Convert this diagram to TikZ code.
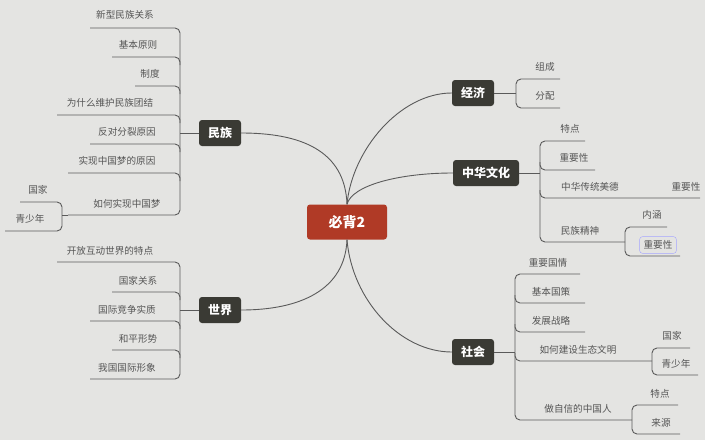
\documentclass[tikz,border=0pt]{standalone}
\usepackage{fontspec}
\setmainfont{Noto Sans CJK SC}
\definecolor{bg}{HTML}{E4E4E2}
\definecolor{topic}{HTML}{3A3A34}
\definecolor{rootred}{HTML}{B03A26}
\definecolor{leaftext}{HTML}{555555}
\definecolor{linec}{HTML}{5A5A5A}
\tikzset{
  root/.style={fill=rootred, text=white, rounded corners=3pt, minimum width=80pt, minimum height=35pt, font=\fontsize{14}{14}\selectfont\bfseries},
  topicbox/.style={fill=topic, text=white, rounded corners=3pt, inner xsep=9pt, minimum height=26pt, font=\fontsize{12}{12}\selectfont\bfseries},
  leaf/.style={text=leaftext, font=\fontsize{9.6}{9.6}\selectfont, inner sep=1pt},
  branch/.style={linec, line width=0.9pt},
  brk/.style={linec, line width=0.9pt, rounded corners=5pt}
}
\begin{document}
\begin{tikzpicture}[x=1pt,y=-1pt]
\fill[bg] (0,0) rectangle (705,440);
\useasboundingbox (0,0) rectangle (705,440);

\node[root] (r) at (347,222) {必背2};
\node[topicbox] (mz) at (220,133) {民族};
\node[topicbox] (sj) at (220,310) {世界};
\node[topicbox] (jj) at (473,93) {经济};
\node[topicbox] (zh) at (486,173) {中华文化};
\node[topicbox] (sh) at (473,352) {社会};

% main curves
\draw[branch] (r.north) .. controls (345,150) and (300,133) .. (mz.east);
\draw[branch] (r.south) .. controls (345,290) and (300,310) .. (sj.east);
\draw[branch] (r.north) .. controls (352,150) and (400,93) .. (jj.west);
\draw[branch] (r.north) .. controls (352,185) and (400,173) .. (zh.west);
\draw[branch] (r.south) .. controls (352,300) and (400,352) .. (sh.west);

% 民族
\foreach \t/\x/\y in {新型民族关系/125/15, 基本原则/138/45, 制度/150/74, 为什么维护民族团结/110/103, 反对分裂原因/127/132, 实现中国梦的原因/117/161, 如何实现中国梦/127/204}
  \node[leaf] at (\x,\y) {\t};
\draw[brk] (90,28) -- (180,28) -- (180,215) -- (68,215);
\foreach \y/\xl in {57/112, 86/135, 115/57, 144/90, 173/68}
  \draw[brk] (\xl,\y) -- (180,\y) -- (180,\y+8);
\draw[branch] (mz.west) -- (180,133);
\node[leaf] (gj1) at (38,190) {国家};
\node[leaf] (qs1) at (30,219) {青少年};
\draw[brk] (20,202) -- (62,202) -- (62,231) -- (5,231);
\draw[branch] (62,215) -- (68,215);

% 世界
\foreach \t/\x/\y in {开放互动世界的特点/110/251, 国家关系/138/281, 国际竞争实质/127/310, 和平形势/138/339, 我国国际形象/127/368}
  \node[leaf] at (\x,\y) {\t};
\draw[brk] (57,262) -- (180,262) -- (180,379) -- (90,379);
\foreach \y/\xl in {292/112, 321/90, 350/112}
  \draw[brk] (\xl,\y) -- (180,\y) -- (180,\y+8);
\draw[branch] (sj.west) -- (180,310);

% 经济
\node[leaf] (zc) at (545,67) {组成};
\node[leaf] (fp) at (545,96) {分配};
\draw[brk] (560,79) -- (516,79) -- (516,108) -- (560,108);
\draw[branch] (jj.east) -- (516,93);

% 中华文化
\foreach \t/\x/\y in {特点/570/129, 重要性/574/158, 中华传统美德/590/187, 重要性/686/187, 民族精神/580/231, 内涵/652/215}
  \node[leaf] at (\x,\y) {\t};
\draw[brk] (585,141) -- (540,141) -- (540,242) -- (625,242);
\draw[brk] (595,170) -- (540,170) -- (540,162);
\draw[brk] (700,198) -- (540,198) -- (540,190);
\draw[branch] (zh.east) -- (540,173);
\draw[brk] (667,227) -- (625,227) -- (625,256) -- (680,256);
\node[leaf, draw=blue!35, rounded corners=3pt, inner xsep=4pt, inner ysep=4pt, fill=bg] (zy) at (658,245) {重要性};

% 社会
\foreach \t/\x/\y in {重要国情/548/263, 基本国策/551/292, 发展战略/551/321, 如何建设生态文明/578/350, 做自信的中国人/578/409, 国家/672/336, 青少年/676/364, 特点/660/394, 来源/661/423}
  \node[leaf] at (\x,\y) {\t};
\draw[brk] (580,274) -- (515,274) -- (515,420) -- (632,420);
\foreach \y/\xr in {303/585, 332/585, 361/652}
  \draw[brk] (\xr,\y) -- (515,\y) -- (515,\y-8);
\draw[branch] (sh.east) -- (515,352);
\draw[brk] (690,348) -- (652,348) -- (652,375) -- (698,375);
\draw[brk] (678,405) -- (632,405) -- (632,434) -- (680,434);
\end{tikzpicture}
\end{document}
